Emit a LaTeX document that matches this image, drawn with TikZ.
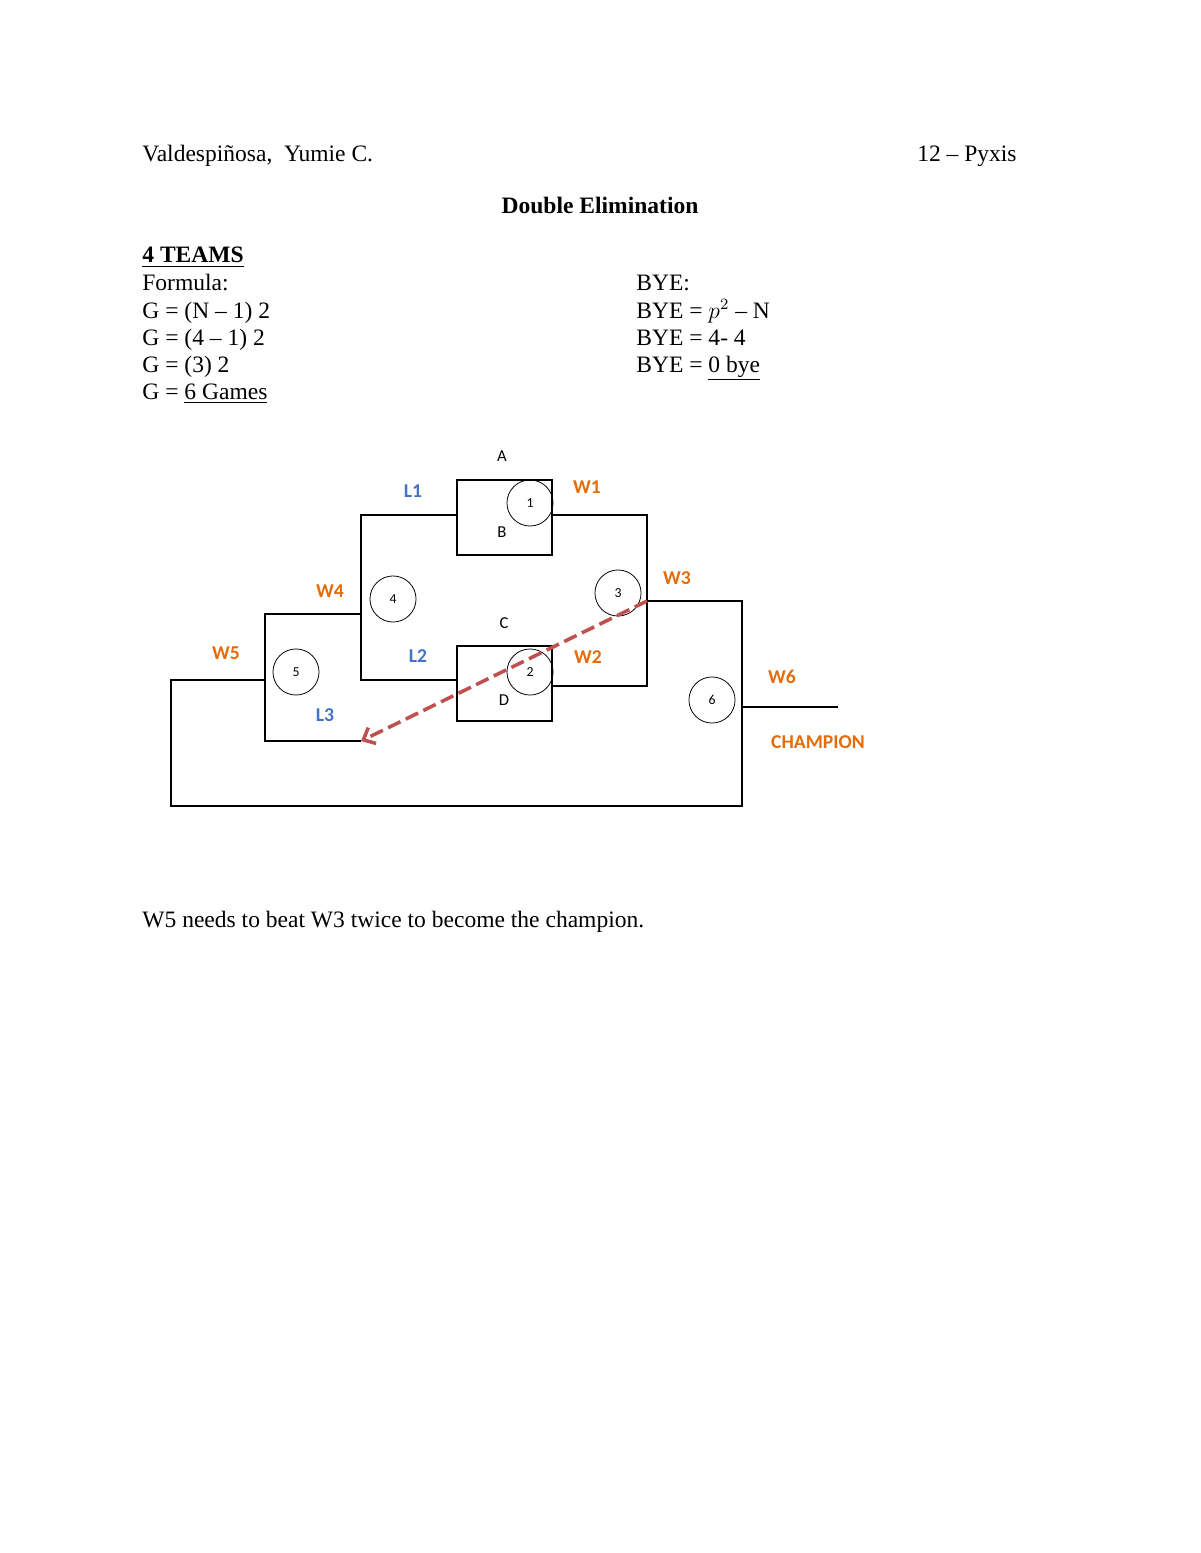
\documentclass[tikz,border=0pt]{standalone}
\usepackage{fontspec}
\setmainfont{Liberation Serif}
\newfontfamily\carl{Carlito}
\usetikzlibrary{arrows.meta}
\definecolor{lorange}{HTML}{E46C0A}
\definecolor{lblue}{HTML}{4472C4}
\definecolor{lred}{HTML}{C0504D}
\begin{document}
\begin{tikzpicture}[x=0.51pt,y=-0.51pt,
 ln/.style={line width=1.4pt},
 gc/.style={draw,circle,minimum size=23.5pt,inner sep=0pt,font=\carl\fontsize{7}{8}\selectfont},
 lt/.style={font=\carl\fontsize{8.5}{10}\selectfont},
 wl/.style={font=\carl\bfseries\fontsize{10}{12}\selectfont,text=lorange},
 ll/.style={font=\carl\bfseries\fontsize{10}{12}\selectfont,text=lblue},
 tx/.style={anchor=base west,inner sep=0pt,font=\fontsize{12}{14}\selectfont}]
\useasboundingbox (0,0) rectangle (1200,1553);
% header texts
\node[tx] (h1) at (142,162) {Valdespiñosa,\ \ Yumie C.};
\node[tx,anchor=base east] (h2) at (1017,162) {12 -- Pyxis};
\node[tx,anchor=base,font=\bfseries\fontsize{12}{14}\selectfont] (t) at (600,214) {Double Elimination};
\node[tx,font=\bfseries\fontsize{12}{14}\selectfont] (f0) at (142,263) {\underline{4 TEAMS}};
\node[tx] (f1) at (142,290) {Formula:};
\node[tx] (f2) at (142,318) {G = (N -- 1) 2};
\node[tx] (f3) at (142,345) {G = (4 -- 1) 2};
\node[tx] (f4) at (142,372) {G = (3) 2};
\node[tx] (f5) at (142,399) {G = \underline{6 Games}};
\node[tx] (b1) at (636,290) {BYE:};
\node[tx] (b2) at (636,318) {BYE = $p^2$ -- N};
\node[tx] (b3) at (636,345) {BYE = 4- 4};
\node[tx] (b4) at (636,372) {BYE = \underline{0 bye}};
\node[tx] (ft) at (142,927) {W5 needs to beat W3 twice to become the champion.};
% boxes
\draw[ln] (457,480) rectangle (552,555);
\draw[ln] (457,646) rectangle (552,721);
% brackets
\draw[ln] (457,515) -- (361,515) -- (361,680) -- (457,680);
\draw[ln] (552,515) -- (647,515) -- (647,686) -- (552,686);
\coordinate (w3) at (647,601);
\draw[ln] (w3) -- (742,601) -- (742,806) -- (171,806) -- (171,680) -- (265,680);
\draw[ln] (742,707) -- (838,707);
\coordinate (l3) at (361,741);
\draw[ln] (361,614) -- (265,614) -- (265,741) -- (l3);
% circles
\node[gc] (g1) at (530,503) {1};
\node[gc] (g2) at (530,672) {2};
\node[gc] (g3) at (618,593) {3};
\node[gc] (g4) at (393,599) {4};
\node[gc] (g5) at (296,672) {5};
\node[gc] (g6) at (712,700) {6};
% arrow
\draw[lred,line width=1.8pt,dash pattern=on 7pt off 3pt,-{Straight Barb[length=5pt,width=9pt]}] (w3) -- (l3);
% labels
\node[lt] (A) at (502,456) {A};
\node[lt] (B) at (502,532) {B};
\node[lt] (C) at (504,623) {C};
\node[lt] (D) at (504,700) {D};
\node[ll] (L1) at (413,491) {L1};
\node[ll] (L2) at (418,656) {L2};
\node[ll] (L3) at (325,715) {L3};
\node[wl] (W1) at (587,487) {W1};
\node[wl] (W2) at (588,657) {W2};
\node[wl] (W3) at (677,578) {W3};
\node[wl] (W4) at (330,591) {W4};
\node[wl] (W5) at (226,653) {W5};
\node[wl] (W6) at (782,677) {W6};
\node[wl] (CH) at (818,742) {CHAMPION};
\end{tikzpicture}
\end{document}
